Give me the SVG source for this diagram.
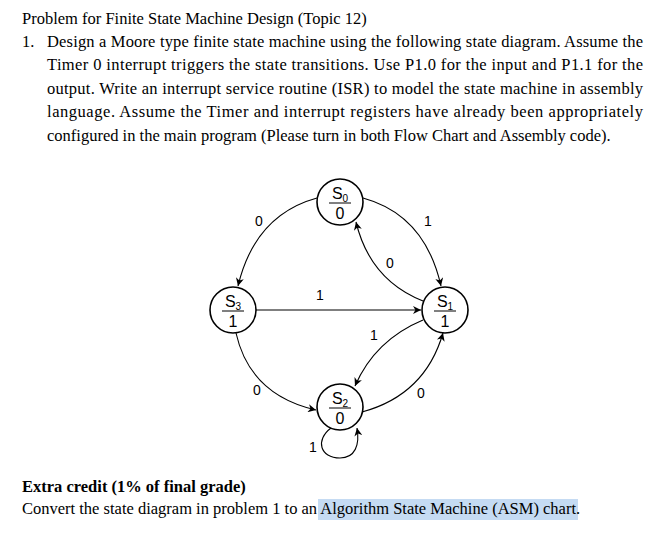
<svg xmlns="http://www.w3.org/2000/svg" width="659" height="543" viewBox="0 0 659 543">
<style>
.t{font-family:"Liberation Serif",serif;font-size:16.5px;fill:#000}
.b{font-weight:bold}
.n{font-family:"Liberation Sans",sans-serif;font-size:14px;fill:#000;text-anchor:middle}
.m{font-family:"Liberation Sans",sans-serif;font-size:16px;fill:#000;text-anchor:middle}
.s{font-size:10px}
circle{fill:#fff;stroke:#000;stroke-width:1.6}
.e{fill:none;stroke:#000;stroke-width:1.1;marker-end:url(#a)}
</style>
<defs><marker id="a" viewBox="0 0 10 10" refX="10" refY="5" markerWidth="10" markerHeight="8" orient="auto" markerUnits="userSpaceOnUse"><path d="M0,0L10,5L0,10L3,5z" fill="#000"/></marker></defs>
<rect width="659" height="543" fill="#fff"/>
<text class="t" x="22" y="24">Problem for Finite State Machine Design (Topic 12)</text>
<text class="t" x="22" y="47">1.</text>
<text class="t" x="47" y="47" textLength="596" lengthAdjust="spacing">Design a Moore type finite state machine using the following state diagram. Assume the</text>
<text class="t" x="47" y="70" textLength="596" lengthAdjust="spacing">Timer 0 interrupt triggers the state transitions. Use P1.0 for the input and P1.1 for the</text>
<text class="t" x="47" y="94" textLength="596" lengthAdjust="spacing">output. Write an interrupt service routine (ISR) to model the state machine in assembly</text>
<text class="t" x="47" y="117" textLength="596" lengthAdjust="spacing">language. Assume the Timer and interrupt registers have already been appropriately</text>
<text class="t" x="47" y="141">configured in the main program (Please turn in both Flow Chart and Assembly code).</text>
<g id="connectors">
<path class="e" d="M363,198 Q425,215 441,286"/>
<path class="e" d="M317,198 Q255,215 238,286"/>
<path class="e" d="M423,301 Q370,280 356,222"/>
<path class="e" d="M256,310 L421,310"/>
<path class="e" d="M423,320 Q375,340 355,386"/>
<path class="e" d="M362,412 Q425,395 443,333"/>
<path class="e" d="M236,333 Q250,395 316,410"/>
<path class="e" d="M331,428 C315,440 320,458 340,458 C355,458 360,445 357,428"/>
</g>
<g>
<text class="n" x="428" y="226">1</text><text class="n" x="259" y="226">0</text>
<text class="n" x="390" y="268">0</text><text class="n" x="320" y="300">1</text>
<text class="n" x="374" y="340">1</text><text class="n" x="421" y="398">0</text>
<text class="n" x="257" y="395">0</text><text class="n" x="313" y="452">1</text>
</g>
<g id="S0"><circle cx="340" cy="202" r="23"/><text class="m" x="340" y="199">S<tspan class="s" dy="3">0</tspan></text><line x1="329" y1="203" x2="351" y2="203" stroke="#000"/><text class="m" x="340" y="219">0</text></g>
<g id="S3"><circle cx="233" cy="310" r="23"/><text class="m" x="233" y="307">S<tspan class="s" dy="3">3</tspan></text><line x1="222" y1="311" x2="244" y2="311" stroke="#000"/><text class="m" x="233" y="327">1</text></g>
<g id="S1"><circle cx="445" cy="310" r="23"/><text class="m" x="445" y="307">S<tspan class="s" dy="3">1</tspan></text><line x1="434" y1="311" x2="456" y2="311" stroke="#000"/><text class="m" x="445" y="327">1</text></g>
<g id="S2"><circle cx="340" cy="407" r="23"/><text class="m" x="340" y="404">S<tspan class="s" dy="3">2</tspan></text><line x1="329" y1="408" x2="351" y2="408" stroke="#000"/><text class="m" x="340" y="424">0</text></g>
<text class="t b" x="22" y="492">Extra credit (1% of final grade)</text>
<rect x="318" y="499" width="260" height="21" fill="#c5dbf3"/>
<text class="t" x="22" y="514">Convert the state diagram in problem 1 to an Algorithm State Machine (ASM) chart.</text>
</svg>
